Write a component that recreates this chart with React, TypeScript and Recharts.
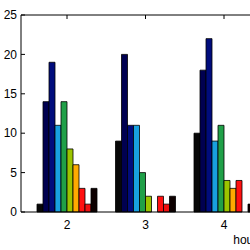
import { Bar, BarChart, XAxis, YAxis, Label } from "recharts";

const hours = ["2", "3", "4"];
const seriesKeys = ["s1", "s2", "s3", "s4", "s5", "s6", "s7", "s8", "s9", "s10"];
const s1 = [1, 9, 10];
const s2 = [14, 20, 18];
const s3 = [19, 11, 22];
const s4 = [11, 11, 9];
const s5 = [14, 5, 11];
const s6 = [8, 2, 4];
const s7 = [6, 0, 3];
const s8 = [3, 2, 4];
const s9 = [1, 1, 0];
const s10 = [3, 2, 1];
const yTicks = [0, 5, 10, 15, 20, 25];

const seriesValues = [s1, s2, s3, s4, s5, s6, s7, s8, s9, s10];
const colors = ["#080808", "#000050", "#000c7c", "#18a0e0", "#20a048", "#9cc400", "#ffaa00", "#ff1010", "#f01010", "#0d0000"];

const data = hours.map((h, i) => {
  const row: Record<string, string | number> = { hour: h };
  seriesKeys.forEach((k, j) => {
    row[k] = seriesValues[j][i];
  });
  return row;
});

const font = "'Liberation Sans', Arial, sans-serif";

function YTick(props: any) {
  const { x, y, payload } = props;
  return (
    <g>
      <line x1={x + 4} x2={x + 8} y1={y} y2={y} stroke="#000" />
      <text x={x} y={y} dy="0.355em" textAnchor="end" fontSize={12} fontFamily={font} fill="#000">
        {payload.value}
      </text>
    </g>
  );
}

function XTick(props: any) {
  const { x, y, payload } = props;
  return (
    <text x={x} y={y} dy="0.71em" textAnchor="middle" fontSize={12} fontFamily={font} fill="#000">
      {payload.value}
    </text>
  );
}

function TopTick(props: any) {
  const { x, y } = props;
  return <line x1={x} x2={x} y1={y} y2={y + 4} stroke="#000" />;
}

export default function App() {
  return (
    <div style={{ position: "absolute", left: 0, top: 0, width: 250, height: 250, overflow: "hidden", background: "#fff" }}>
      <BarChart
        width={264}
        height={250}
        data={data}
        margin={{ top: 14, right: 0.75, left: 0, bottom: 0 }}
        barCategoryGap={9.25}
        barGap={0}
      >
        <XAxis
          dataKey="hour"
          xAxisId="top"
          orientation="top"
          height={1}
          padding={{ left: 6.75, right: 0 }}
          axisLine={{ stroke: "#000" }}
          tickLine={false}
          tickSize={0}
          tickMargin={0}
          tick={<TopTick />}
        />
        <XAxis
          dataKey="hour"
          height={38}
          padding={{ left: 6.75, right: 0 }}
          axisLine={{ stroke: "#000" }}
          tickLine={false}
          tickSize={0}
          tickMargin={8}
          tick={<XTick />}
        >
          <Label value="hour" position="insideBottomRight" offset={6} fontSize={12} fontFamily={font} fill="#000" />
        </XAxis>
        <YAxis
          width={21}
          domain={[0, 25]}
          ticks={yTicks}
          axisLine={{ stroke: "#000" }}
          tickLine={false}
          tickSize={0}
          tickMargin={4}
          tick={<YTick />}
        />
        {seriesKeys.map((k, j) => (
          <Bar key={k} dataKey={k} fill={colors[j]} stroke="#000" strokeWidth={0.8} isAnimationActive={false} />
        ))}
      </BarChart>
    </div>
  );
}
